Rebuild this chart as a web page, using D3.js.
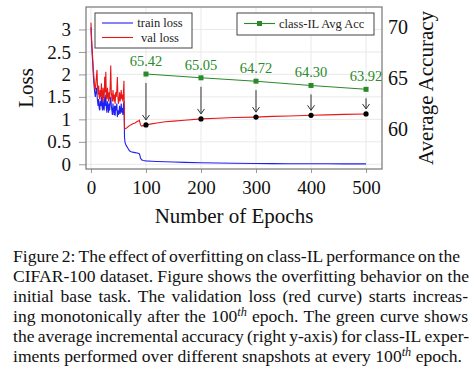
<!DOCTYPE html>
<html>
<head>
<meta charset="utf-8">
<script src="https://cdn.jsdelivr.net/npm/d3@7"></script>
<style>
  body { margin: 0; background: #fff; }
  svg { display: block; }
</style>
</head>
<body>
<div id="chart"></div>
<script>
// epochs shared by both loss curves
const lossEpochs = [
  0,1,2,3,4,5,6,7,8,9,10,11,12,13,14,15,16,17,18,19,20,21,22,23,24,25,26,27,28,29,
  30,31,32,33,34,35,36,37,38,39,40,41,42,43,44,45,46,47,48,49,50,51,52,53,54,55,56,57,58,59,
  60,61,62,64,66,68,70,73,76,80,84,87,88,89,90,92,95,100,110,120,135,150,170,200,230,260,300,330,360,400,430,460,500
];
const trainLoss = [
  3.05,2.75,2.50,2.30,2.05,1.85,1.70,1.58,1.50,1.62,
  1.70,1.55,1.40,1.30,1.45,1.25,1.20,1.40,1.30,1.50,
  1.30,1.20,1.45,1.25,1.20,1.50,1.30,1.55,1.25,1.15,
  1.40,1.30,1.15,1.35,1.20,1.45,1.50,1.30,1.20,1.10,
  1.35,1.20,1.10,1.30,1.08,1.30,1.20,1.35,1.05,1.20,
  1.10,1.15,1.30,1.12,1.20,1.35,1.15,1.25,1.10,1.30,
  1.40,0.60,0.48,0.42,0.38,0.34,0.30,0.28,0.27,0.26,0.25,0.24,0.23,0.20,0.14,0.10,0.085,0.075,
  0.068,0.062,0.056,0.050,0.042,0.034,0.027,0.022,0.018,0.015,0.013,0.012,0.011,0.010,0.010
];
const valLoss = [
  3.15,2.85,2.60,2.40,2.20,2.00,1.85,1.72,1.66,1.80,
  1.95,2.10,1.70,1.55,1.75,1.50,1.45,1.65,1.50,1.80,
  1.55,1.40,1.70,1.50,1.45,1.95,1.60,2.06,1.50,1.45,
  1.70,1.55,1.40,1.60,1.45,1.75,2.20,1.60,1.50,1.40,
  1.65,1.50,1.40,1.55,1.35,1.60,1.50,1.65,1.94,1.50,
  1.35,1.45,1.60,1.40,1.50,1.65,1.45,1.55,1.40,1.60,
  1.86,0.80,0.79,0.80,0.82,0.84,0.86,0.88,0.90,0.92,0.95,0.97,0.98,0.93,0.88,0.85,0.86,0.875,
  0.90,0.92,0.945,0.96,0.98,1.01,1.025,1.04,1.05,1.065,1.075,1.09,1.10,1.11,1.12
];

const snapEpochs = [100, 200, 300, 400, 500];
const snapAcc = [65.42, 65.05, 64.72, 64.30, 63.92];
const snapLabels = ["65.42", "65.05", "64.72", "64.30", "63.92"];

const xTicks = [0, 100, 200, 300, 400, 500];
const lossTicks = [0, 0.5, 1, 1.5, 2, 2.5, 3];
const accTicks = [60, 65, 70];

const captionLines = [
  ["Figure", "2:", "The", "effect", "of", "overfitting", "on", "class-IL", "performance", "on", "the"],
  ["CIFAR-100", "dataset.", "Figure", "shows", "the", "overfitting", "behavior", "on", "the"],
  ["initial", "base", "task.", "The", "validation", "loss", "(red", "curve)", "starts", "increas-"],
  ["ing", "monotonically", "after", "the", "100^th", "epoch.", "The", "green", "curve", "shows"],
  ["the", "average", "incremental", "accuracy", "(right", "y-axis)", "for", "class-IL", "exper-"],
  ["iments", "performed", "over", "different", "snapshots", "at", "every", "100^th", "epoch."]
];

const width = 474, height = 376;
const serif = "'Liberation Serif', 'Times New Roman', serif";
const blue = "#2020f0", red = "#e81818", green = "#2a8a2a";

const svg = d3.select("#chart").append("svg")
  .attr("width", width)
  .attr("height", height)
  .attr("font-family", serif);

// plot frame
const pLeft = 86, pRight = 382, pTop = 7, pBottom = 169;
const x = d3.scaleLinear().domain([-9, 529]).range([pLeft, pRight]);
const yLoss = d3.scaleLinear().domain([-0.105, 3.5]).range([pBottom, pTop]);
const yAcc = d3.scaleLinear().domain([56.1, 72]).range([pBottom, pTop]);

// grid
const grid = svg.append("g").attr("stroke", "#e3e3e3").attr("stroke-width", 0.8);
xTicks.forEach(t => grid.append("line")
  .attr("x1", x(t)).attr("x2", x(t)).attr("y1", pTop).attr("y2", pBottom));
lossTicks.forEach(t => grid.append("line")
  .attr("x1", pLeft).attr("x2", pRight).attr("y1", yLoss(t)).attr("y2", yLoss(t)));

// axes
const xAxis = svg.append("g")
  .attr("transform", `translate(0,${pBottom})`)
  .call(d3.axisBottom(x).tickValues(xTicks).tickSize(4).tickPadding(8).tickFormat(d3.format("d")));
const lAxis = svg.append("g")
  .attr("transform", `translate(${pLeft},0)`)
  .call(d3.axisLeft(yLoss).tickValues(lossTicks).tickSize(7).tickPadding(8).tickFormat(d => String(d)));
const rAxis = svg.append("g")
  .attr("transform", `translate(${pRight},0)`)
  .call(d3.axisRight(yAcc).tickValues(accTicks).tickSize(0).tickPadding(6));

[xAxis, lAxis, rAxis].forEach(a => {
  a.attr("font-family", serif);
  a.select(".domain").remove();
  a.selectAll("line").attr("stroke", "#999");
  a.selectAll("text").attr("font-size", 19).attr("fill", "#111");
});
rAxis.selectAll("text").attr("font-size", 20);

svg.append("rect")
  .attr("x", pLeft).attr("y", pTop)
  .attr("width", pRight - pLeft).attr("height", pBottom - pTop)
  .attr("fill", "none").attr("stroke", "#777").attr("stroke-width", 1.2);

// loss curves
const lossLine = vals => d3.line()
  .x((d, i) => x(lossEpochs[i]))
  .y(d => yLoss(d))(vals);

svg.append("path").attr("d", lossLine(trainLoss))
  .attr("fill", "none").attr("stroke", blue).attr("stroke-width", 1.1);
svg.append("path").attr("d", lossLine(valLoss))
  .attr("fill", "none").attr("stroke", red).attr("stroke-width", 1.1);

// accuracy curve
const snaps = snapEpochs.map((e, i) => ({
  e, acc: snapAcc[i], label: snapLabels[i],
  loss: valLoss[lossEpochs.indexOf(e)]
}));

svg.append("path")
  .attr("d", d3.line().x(d => x(d.e)).y(d => yAcc(d.acc))(snaps))
  .attr("fill", "none").attr("stroke", green).attr("stroke-width", 1.1);

svg.append("defs").append("marker")
  .attr("id", "arr")
  .attr("viewBox", "-6 -4 7 8")
  .attr("markerUnits", "userSpaceOnUse")
  .attr("markerWidth", 7).attr("markerHeight", 8)
  .attr("refX", 0).attr("refY", 0)
  .attr("orient", "auto")
  .append("path")
  .attr("d", "M-5,-3.5 L0,0 L-5,3.5")
  .attr("fill", "none").attr("stroke", "#333").attr("stroke-width", 1);

svg.selectAll(".arrow").data(snaps).enter().append("line")
  .attr("x1", d => x(d.e)).attr("x2", d => x(d.e))
  .attr("y1", d => yAcc(d.acc) + 9)
  .attr("y2", d => yLoss(d.loss) - 5)
  .attr("stroke", "#333").attr("stroke-width", 1)
  .attr("marker-end", "url(#arr)");

svg.selectAll(".dot").data(snaps).enter().append("circle")
  .attr("cx", d => x(d.e)).attr("cy", d => yLoss(d.loss)).attr("r", 2.6)
  .attr("fill", "#000");

svg.selectAll(".sq").data(snaps).enter().append("rect")
  .attr("x", d => x(d.e) - 2.5).attr("y", d => yAcc(d.acc) - 2.5)
  .attr("width", 5).attr("height", 5).attr("fill", green);

svg.selectAll(".acclab").data(snaps).enter().append("text")
  .attr("x", d => x(d.e)).attr("y", d => yAcc(d.acc) - 8)
  .attr("text-anchor", "middle")
  .attr("font-size", 14.5).attr("fill", green)
  .text(d => d.label);

// legends
const leg1 = svg.append("g");
leg1.append("rect").attr("x", 95).attr("y", 13).attr("width", 97).attr("height", 35)
  .attr("fill", "#fff").attr("stroke", "#444").attr("stroke-width", 1);
[["train loss", blue, 23], ["val loss", red, 37.5]].forEach(([t, c, yy]) => {
  leg1.append("line").attr("x1", 102).attr("x2", 133).attr("y1", yy).attr("y2", yy)
    .attr("stroke", c).attr("stroke-width", 1.1);
  leg1.append("text").attr("x", 160).attr("y", yy + 4).attr("text-anchor", "middle")
    .attr("font-size", 12.5).attr("fill", "#222").text(t);
});

const leg2 = svg.append("g");
leg2.append("rect").attr("x", 237).attr("y", 13).attr("width", 137).attr("height", 22)
  .attr("fill", "#fff").attr("stroke", "#444").attr("stroke-width", 1);
leg2.append("line").attr("x1", 244).attr("x2", 275).attr("y1", 23.5).attr("y2", 23.5)
  .attr("stroke", green).attr("stroke-width", 1.1);
leg2.append("rect").attr("x", 257).attr("y", 21).attr("width", 5).attr("height", 5).attr("fill", green);
leg2.append("text").attr("x", 279).attr("y", 27.5)
  .attr("font-size", 12.5).attr("fill", "#222").text("class-IL Avg Acc");

// axis titles
svg.append("text").attr("x", 234).attr("y", 223).attr("text-anchor", "middle")
  .attr("font-size", 21).attr("fill", "#111").text("Number of Epochs");
svg.append("text").attr("transform", "translate(33,88) rotate(-90)").attr("text-anchor", "middle")
  .attr("font-size", 21).attr("fill", "#111").text("Loss");
svg.append("text").attr("transform", "translate(433,88) rotate(-90)").attr("text-anchor", "middle")
  .attr("font-size", 21).attr("fill", "#111").text("Average Accuracy");

// caption, justified by hand; last line ends near x=462
const capLeft = 13, capRights = [460, 469, 468, 468, 469, 462];
const cap = svg.append("g").attr("fill", "#111");

function capWords(words, yy, size) {
  return words.map(w => {
    const t = cap.append("text").attr("y", yy).attr("font-size", size);
    if (w.includes("^")) {
      const [base, sup] = w.split("^");
      t.append("tspan").text(base);
      t.append("tspan").attr("font-size", size * 0.7).attr("font-style", "italic").attr("dy", -6).text(sup);
    } else {
      t.text(w);
    }
    return t;
  });
}

// pick the font size from the natural width of the last line
const probe = capWords(captionLines[5], -50, 17);
const probeW = d3.sum(probe, t => t.node().getComputedTextLength()) + (captionLines[5].length - 1) * 17 * 0.25;
probe.forEach(t => t.remove());
const capSize = Math.max(15, Math.min(19, 17 * (capRights[5] - capLeft) / probeW));

captionLines.forEach((words, li) => {
  const yy = 262 + li * 19.9;
  const els = capWords(words, yy, capSize);
  const widths = els.map(t => t.node().getComputedTextLength());
  const gap = (capRights[li] - capLeft - d3.sum(widths)) / (words.length - 1);
  let cx = capLeft;
  els.forEach((t, i) => { t.attr("x", cx); cx += widths[i] + gap; });
});
</script>
</body>
</html>
